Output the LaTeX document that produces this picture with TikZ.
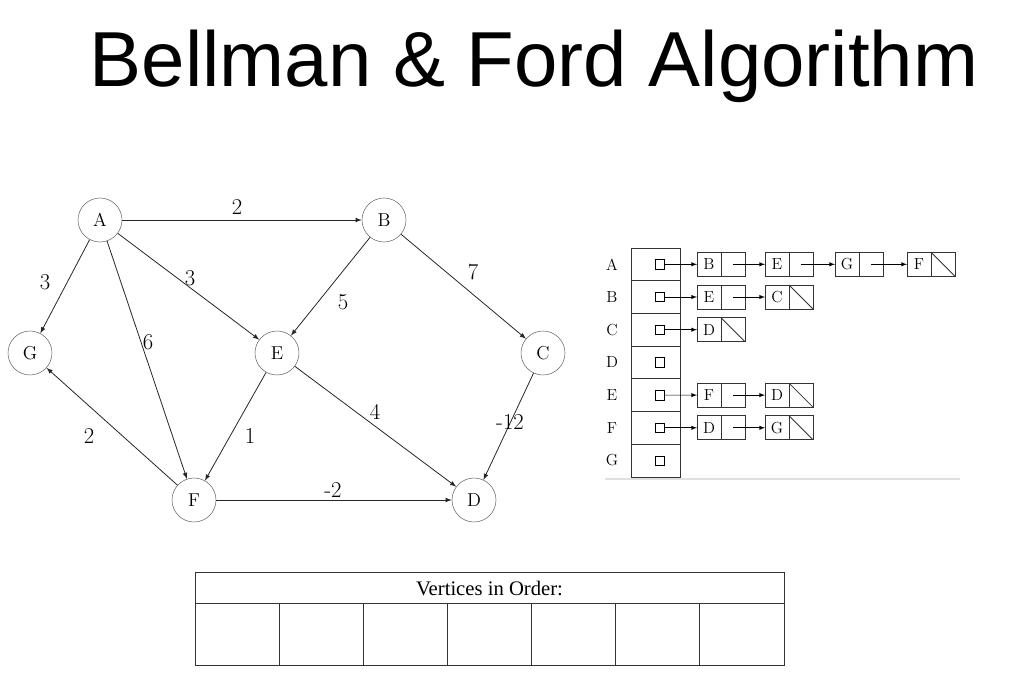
\documentclass[tikz,border=0pt]{standalone}
\usepackage{fontspec}
\newfontfamily\titlefont{Liberation Sans}
\newfontfamily\tabfont{Liberation Serif}
\begin{document}
\begin{tikzpicture}[x=0.75pt,y=-0.75pt,
  vtx/.style={circle,draw=black!60,minimum size=33pt,inner sep=0pt,font=\fontsize{14}{14}\selectfont},
  edge/.style={-latex,draw=black!85,line width=0.6pt},
  lbl/.style={font=\fontsize{17}{17}\selectfont},
  cell/.style={draw=black!80,line width=0.6pt},
  lk/.style={-latex,line width=0.5pt},
  alab/.style={font=\fontsize{12}{12}\selectfont}]
\useasboundingbox (0,0) rectangle (1024,692);
\node[font=\titlefont\fontsize{58.5}{58.5}\selectfont] (title) at (534,66) {Bellman \& Ford Algorithm};
% graph
\node[vtx] (A) at (100,220) {A};
\node[vtx] (B) at (384,220) {B};
\node[vtx] (G) at (30,353) {G};
\node[vtx] (E) at (277,353) {E};
\node[vtx] (C) at (543,353) {C};
\node[vtx] (F) at (194,500) {F};
\node[vtx] (D) at (474,500) {D};
\draw[edge] (A) -- (B); \node[lbl] (l1) at (237,207) {2};
\draw[edge] (A) -- (G); \node[lbl] (l2) at (45,282) {3};
\draw[edge] (A) -- (E); \node[lbl] (l3) at (190,278) {3};
\draw[edge] (A) -- (F); \node[lbl] (l4) at (148,342) {6};
\draw[edge] (B) -- (E); \node[lbl] (l5) at (343,302) {5};
\draw[edge] (B) -- (C); \node[lbl] (l6) at (473,272) {7};
\draw[edge] (F) -- (G); \node[lbl] (l7) at (89,436) {2};
\draw[edge] (E) -- (F); \node[lbl] (l8) at (250,436) {1};
\draw[edge] (E) -- (D); \node[lbl] (l9) at (375,412) {4};
\draw[edge] (C) -- (D); \node[lbl] (l10) at (510,422) {-12};
\draw[edge] (F) -- (D); \node[lbl] (l11) at (333,490) {-2};
% adjacency array
\foreach \n/\i in {A/0,B/1,C/2,D/3,E/4,F/5,G/6}{
  \draw[cell] (631,248+\i*32.7) rectangle (680,280.7+\i*32.7);
  \node[alab] (lab\n) at (612,264.3+\i*32.7) {\n};
  \node[draw,inner sep=0pt,minimum size=7pt] (p\n) at (660,264.3+\i*32.7) {};
}
\newcommand{\lcell}[5]{%
  \draw[cell] (#2,#3-12) rectangle (#2+48,#3+12);
  \draw[cell] (#2+24,#3-12) -- (#2+24,#3+12);
  \node[alab] (#1) at (#2+12,#3) {#4};
  \coordinate (#1in) at (#2,#3);
  \coordinate (#1out) at (#2+36,#3);
  \ifnum#5=1 \draw[cell] (#2+24,#3-12) -- (#2+48,#3+12);\fi}
\lcell{a1}{697}{264.3}{B}{0}\lcell{a2}{765}{264.3}{E}{0}\lcell{a3}{835}{264.3}{G}{0}\lcell{a4}{907}{264.3}{F}{1}
\draw[lk] (pA) -- (a1in); \draw[lk] (a1out) -- (a2in); \draw[lk] (a2out) -- (a3in); \draw[lk] (a3out) -- (a4in);
\lcell{b1}{697}{297}{E}{0}\lcell{b2}{765}{297}{C}{1}
\draw[lk] (pB) -- (b1in); \draw[lk] (b1out) -- (b2in);
\lcell{c1}{697}{329.7}{D}{1}
\draw[lk] (pC) -- (c1in);
\lcell{e1}{697}{395.1}{F}{0}\lcell{e2}{765}{395.1}{D}{1}
\draw[lk] (pE) -- (e1in); \draw[lk] (e1out) -- (e2in);
\lcell{f1}{697}{427.8}{D}{0}\lcell{f2}{765}{427.8}{G}{1}
\draw[lk] (pF) -- (f1in); \draw[lk] (f1out) -- (f2in);
\draw[black!12,line width=1.5pt] (605,479) -- (960,479);
% table
\draw[cell] (195,572) rectangle (784,665);
\draw[cell] (195,603) -- (784,603);
\foreach \k in {1,...,6}{\draw[cell] (195+\k*84.14,603) -- (195+\k*84.14,665);}
\node[font=\tabfont\fontsize{15.5}{15.5}\selectfont] (hdr) at (489.5,588) {Vertices in Order:};
\end{tikzpicture}
\end{document}
